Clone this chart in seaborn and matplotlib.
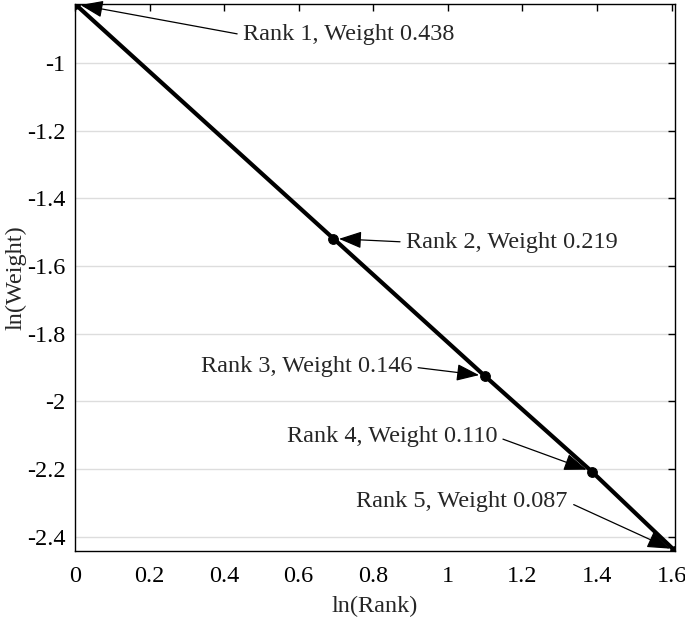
import numpy as np
import pandas as pd
import matplotlib
matplotlib.use('Agg')
import matplotlib.pyplot as plt
import seaborn as sns

# Rank / weight values
ranks = [1, 2, 3, 4, 5]
weights = [0.438, 0.219, 0.146, 0.110, 0.087]
labels = ['Rank %d, Weight %.3f' % (r, w) for r, w in zip(ranks, weights)]

# where each label sits (data coords) and how it is anchored
label_pos = [(0.451, -0.917), (0.888, -1.529), (0.904, -1.898), (1.132, -2.105), (1.322, -2.297)]
label_ha = ['left', 'left', 'right', 'right', 'right']

df = pd.DataFrame({'lnrank': np.log(ranks), 'lnweight': np.log(weights)})

sns.set_style('white')
plt.rcParams['font.family'] = ['Liberation Serif', 'DejaVu Serif']

fig = plt.figure(figsize=(6.85, 6.19), dpi=100)
ax = fig.add_axes([0.1095, 0.1099, 0.876, 0.8836])

ax.yaxis.grid(True, color='#dddddd', lw=1)
ax.set_axisbelow(True)

sns.lineplot(data=df, x='lnrank', y='lnweight', color='black', lw=3,
             marker='o', markersize=7, markeredgecolor='black', ax=ax, zorder=3)

for i in range(len(ranks)):
    rel = (0, 0.5) if label_ha[i] == 'left' else (1, 0.5)
    ax.annotate(labels[i], xy=(df.lnrank[i], df.lnweight[i]), xytext=label_pos[i],
                ha=label_ha[i], va='center', fontsize=17.5,
                arrowprops=dict(arrowstyle='-|>,head_length=0.8,head_width=0.3',
                                color='black', lw=0.9, shrinkA=2, shrinkB=4,
                                relpos=rel),
                zorder=4)

ax.set_xlim(0, np.log(5))
ax.set_ylim(np.log(0.087), np.log(0.438))
ax.set_xticks(np.arange(0, 1.61, 0.2))
ax.set_xticklabels(['0', '0.2', '0.4', '0.6', '0.8', '1', '1.2', '1.4', '1.6'])
ax.set_yticks([-1, -1.2, -1.4, -1.6, -1.8, -2, -2.2, -2.4])
ax.set_yticklabels(['-1', '-1.2', '-1.4', '-1.6', '-1.8', '-2', '-2.2', '-2.4'])
ax.tick_params(direction='in', top=True, right=True, length=5, width=1,
               labelsize=17.5, colors='black', pad=7)
ax.tick_params(axis='x', pad=10.5)
for s in ax.spines.values():
    s.set_color('black')
    s.set_linewidth(1)

ax.set_xlabel('ln(Rank)', fontsize=17.5, labelpad=7)
ax.set_ylabel('ln(Weight)', fontsize=17.5, labelpad=0)

fig.savefig('out.png', dpi=100)
